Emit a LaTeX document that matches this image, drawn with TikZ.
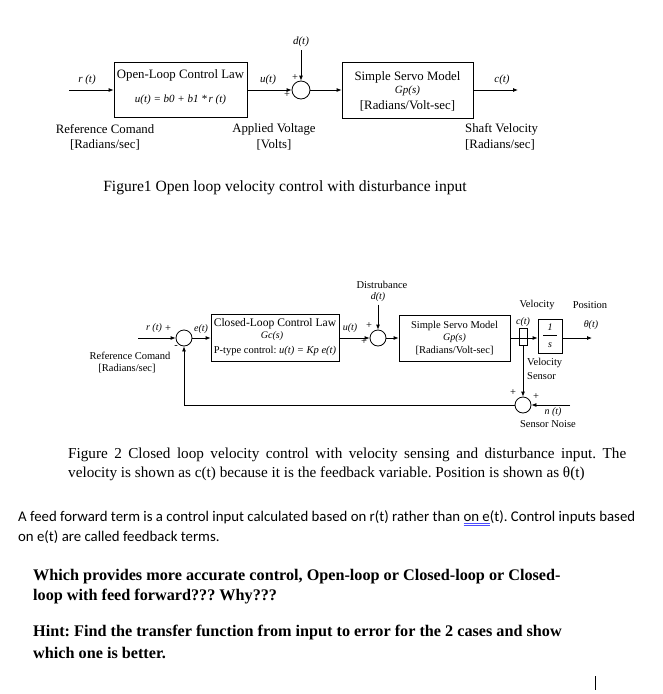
\documentclass[tikz,border=0pt]{standalone}
\usepackage{fontspec}
\setmainfont{Liberation Serif}
\newfontfamily\calib{Carlito}
\usetikzlibrary{arrows.meta,calc}
\frenchspacing
\newsavebox\ulbox
\newcommand\dblul[1]{\sbox\ulbox{#1}\rlap{\color{blue!70}\rule[-2.6pt]{\wd\ulbox}{0.6pt}}\rlap{\color{blue!70}\rule[-4.4pt]{\wd\ulbox}{0.6pt}}\usebox\ulbox}
\begin{document}
\begin{tikzpicture}[x=1pt,y=-1pt,
  >={Latex[length=5pt,width=4pt]},
  wire/.style={line width=0.8pt},
  blk/.style={draw,line width=0.8pt,inner sep=0pt},
  sumc/.style={draw,circle,line width=0.8pt,inner sep=0pt},
  ta/.style={inner sep=0pt,font=\fontsize{12.8}{14}\selectfont},
  tai/.style={inner sep=0pt,font=\fontsize{11}{13}\selectfont\itshape},
  tb/.style={inner sep=0pt,font=\fontsize{10.5}{12}\selectfont},
  tbi/.style={inner sep=0pt,font=\fontsize{10}{12}\selectfont\itshape},
  sg/.style={inner sep=0pt,font=\fontsize{10.5}{12}\selectfont},
  captxt/.style={inner sep=0pt,font=\fontsize{15.2}{18}\selectfont},
  para/.style={inner sep=0pt,anchor=west,font=\calib\fontsize{14.8}{17}\selectfont},
  qb/.style={inner sep=0pt,anchor=west,font=\fontsize{16.2}{19}\selectfont\bfseries}]
\useasboundingbox[fill=white] (0,0) rectangle (662,694);

% ---------------- Figure 1 ----------------
\coordinate (rin1) at (69,90);
\node[blk,minimum width=133pt,minimum height=55pt] (ol) at (180.5,90) {};
\node[ta] (ol1) at (180.5,75) {Open-Loop Control Law};
\node[tai] (ol2) at (180.5,100) {u(t) = b0 + b1 *\,r (t)};
\node[sumc,minimum size=18pt] (s1) at (301,90) {};
\node[blk,minimum width=131pt,minimum height=56pt] (sv1) at (407.5,90) {};
\node[ta] (sv1a) at (407.5,77) {Simple Servo Model};
\node[tai] (sv1b) at (407.5,91) {Gp(s)};
\node[ta] (sv1c) at (407.5,106) {[Radians/Volt-sec]};
\coordinate (cout1) at (518,90);
\node[tai] (d1) at (301,42) {d(t)};

\draw[wire,->] (rin1) -- (ol.west);
\draw[wire,->] (ol.east) -- (s1.west);
\draw[wire,->] (d1.south) ++(0,3) coordinate (d1s) (d1s) -- (s1.north);
\draw[wire,->] (s1.east) -- (sv1.west);
\draw[wire,->] (sv1.east) -- (cout1);

\node[tai] (lr1) at (87,80) {r (t)};
\node[tai] (lu1) at (268,80) {u(t)};
\node[tai] (lc1) at (502,80) {c(t)};
\node[sg] (p1a) at (295,78) {+};
\node[sg] (p1b) at (287,95) {+};

\node[ta] (rc1) at (105,129) {Reference Comand};
\node[ta] (rc2) at (105,145) {[Radians/sec]};
\node[ta] (av1) at (274,129) {Applied Voltage};
\node[ta] (av2) at (274,145) {[Volts]};
\node[ta,anchor=west] (sh1) at (465,129) {Shaft Velocity};
\node[ta,anchor=west] (sh2) at (465,145) {[Radians/sec]};

\node[captxt,font=\fontsize{15.6}{18}\selectfont] (cap1) at (285,188) {Figure1 Open loop velocity control with disturbance input};

% ---------------- Figure 2 ----------------
\coordinate (rin2) at (138,338);
\node[sumc,minimum size=16pt] (s2) at (184,338) {};
\node[blk,minimum width=128pt,minimum height=47pt] (cl) at (275,338) {};
\node[tb,font=\fontsize{11.6}{13}\selectfont] (cl1) at (275,324) {Closed-Loop Control Law};
\node[tbi] (cl2) at (272,336) {Gc(s)};
\node[tb] (cl3) at (275,351) {P-type control: \textit{u(t) = Kp e(t)}};
\node[sumc,minimum size=16pt] (s3) at (378,338) {};
\node[blk,minimum width=111pt,minimum height=46pt] (sv2) at (454.5,338) {};
\node[tb] (sv2a) at (454.5,326) {Simple Servo Model};
\node[tbi] (sv2b) at (454.5,338) {Gp(s)};
\node[tb] (sv2c) at (454.5,351) {[Radians/Volt-sec]};
\node[blk,minimum width=8pt,minimum height=17pt] (sens) at (523,337) {};
\node[blk,minimum width=24pt,minimum height=34pt] (int) at (550,336) {};
\node[tbi] (int1) at (550,327) {1};
\node[tbi] (int2) at (550,345) {s};
\draw[line width=0.6pt] (543,335.5) -- (557,335.5);
\coordinate (thout) at (592,338);
\node[sumc,minimum size=16pt] (s4) at (523,405) {};
\coordinate (nin) at (570,405);
\node[tb] (dist) at (382,285) {Distrubance};
\node[tbi] (d2) at (378,297) {d(t)};

\draw[wire,->] (rin2) -- (s2.west);
\draw[wire,->] (s2.east) -- (cl.west);
\draw[wire,->] (cl.east) -- (s3.west);
\draw[wire,->] (d2.south) ++(0,3) coordinate (d2s) (d2s) -- (s3.north);
\draw[wire,->] (s3.east) -- (sv2.west);
\draw[wire,->] (sv2.east) -- (sv2.east -| int.west);
\draw[wire,->] (int.east |- thout) -- (thout);
\draw[wire,->] (sens.south) -- (s4.north);
\draw[wire,->] (nin) -- (s4.east);
\draw[wire,->] (s4.west) -| (s2.south);

\node[tbi] (lr2) at (154,328) {r (t)};
\node[tbi] (le2) at (201,329) {e(t)};
\node[tbi] (lu2) at (350,328) {u(t)};
\node[tbi] (lc2) at (523,322) {c(t)};
\node[tbi] (lth) at (591,325) {θ(t)};
\node[tb] (lvel) at (537,305) {Velocity};
\node[tb] (lpos) at (590,305) {Position};
\node[tb,anchor=west] (vs1) at (527,363) {Velocity};
\node[tb,anchor=west] (vs2) at (527,376) {Sensor};
\node[tbi] (ln) at (553,412) {n (t)};
\node[tb] (sn) at (548,424) {Sensor Noise};
\node[tb] (rc3) at (130,356) {Reference Comand};
\node[tb] (rc4) at (127,369) {[Radians/sec]};
\node[sg] (p2a) at (168,329) {+};
\node[sg] (p2b) at (176,347) {-};
\node[sg] (p3a) at (369,326) {+};
\node[sg] (p3b) at (364,342) {+};
\node[sg] (p4a) at (513,393) {+};
\node[sg] (p4b) at (536,397) {+};

\node[captxt,anchor=west] (cap2a) at (68,455) {\makebox[558pt][s]{Figure 2 Closed loop velocity control with velocity sensing and disturbance input. The}};
\node[captxt,anchor=west] (cap2b) at (68,474) {velocity is shown as c(t) because it is the feedback variable. Position is shown as θ(t)};

% ---------------- Text ----------------
\node[para] (pa1) at (18,518) {A feed forward term is a control input calculated based on r(t) rather than \dblul{on e}(t). Control inputs based};
\node[para] (pa2) at (18,537) {on e(t) are called feedback terms.};

\node[qb] (q1) at (33,577) {Which provides more accurate control, Open-loop or Closed-loop or Closed-};
\node[qb] (q2) at (33,597) {loop with feed forward??? Why???};
\node[qb] (q3) at (33,633) {Hint: Find the transfer function from input to error for the 2 cases and show};
\node[qb] (q4) at (33,653) {which one is better.};
\draw[line width=0.8pt] (595,676) -- (595,690);
\end{tikzpicture}
\end{document}
